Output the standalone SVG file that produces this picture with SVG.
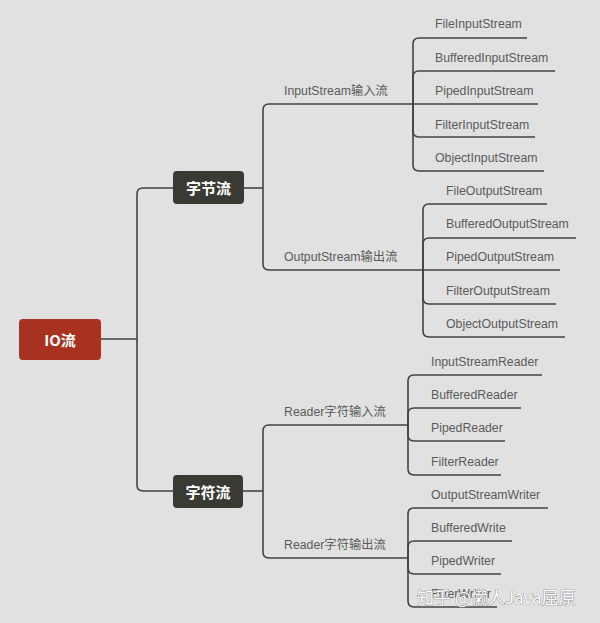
<svg xmlns="http://www.w3.org/2000/svg" width="600" height="623" viewBox="0 0 600 623">
<style>
.bg{fill:#e1e1e1}
.ln{fill:none;stroke:#434343;stroke-width:1.6}
.root{fill:#a7321f}
.mid{fill:#3a3a34}
.nt{fill:#ffffff;font-family:"Noto Sans CJK SC","Liberation Sans",sans-serif;font-size:15px;font-weight:bold;text-anchor:middle;dominant-baseline:central}
.lt{fill:#5a5a5a;font-family:"Liberation Sans","Noto Sans CJK SC",sans-serif;font-size:12.3px;dominant-baseline:central}
.wm{fill:#ffffff;stroke:#7a7a7a;stroke-width:0.7;paint-order:stroke;font-family:"Noto Sans CJK SC",sans-serif;font-size:17px;dominant-baseline:central}
</style>
<rect class="bg" x="0" y="0" width="600" height="623"/>
<g id="connectors">
<path class="ln" d="M101,339 H137"/>
<path class="ln" d="M173,188 H143 Q137,188 137,194 V485 Q137,491 143,491 H173"/>
<path class="ln" d="M244,188 H263"/>
<path class="ln" d="M243,491 H263"/>
<path class="ln" d="M413,104 H269 Q263,104 263,110 V264 Q263,270 269,270 H423"/>
<path class="ln" d="M408,425 H269 Q263,425 263,431 V552 Q263,558 269,558 H408"/>
<path class="ln" d="M413,104 V44 Q413,38 419,38 H527"/>
<path class="ln" d="M413,104 V77 Q413,71 419,71 H555"/>
<path class="ln" d="M413,104 H538"/>
<path class="ln" d="M413,104 V131 Q413,137 419,137 H535"/>
<path class="ln" d="M413,104 V165 Q413,171 419,171 H544"/>
<path class="ln" d="M423,270 V210 Q423,204 429,204 H547"/>
<path class="ln" d="M423,270 V244 Q423,238 429,238 H576"/>
<path class="ln" d="M423,270 H560"/>
<path class="ln" d="M423,270 V298 Q423,304 429,304 H556"/>
<path class="ln" d="M423,270 V331 Q423,337 429,337 H565"/>
<path class="ln" d="M408,425 V381 Q408,375 414,375 H542"/>
<path class="ln" d="M408,425 V414 Q408,408 414,408 H521"/>
<path class="ln" d="M408,425 V435 Q408,441 414,441 H505"/>
<path class="ln" d="M408,425 V469 Q408,475 414,475 H501"/>
<path class="ln" d="M408,558 V514 Q408,508 414,508 H548"/>
<path class="ln" d="M408,558 V547 Q408,541 414,541 H512"/>
<path class="ln" d="M408,558 V568 Q408,574 414,574 H501"/>
<path class="ln" d="M408,558 V601 Q408,607 414,607 H497"/>
</g>
<g id="n-io"><rect class="root" x="19" y="319" width="82" height="41" rx="4"/><text class="nt" x="60" y="339.5">IO流</text></g>
<g id="n-byte"><rect class="mid" x="173" y="171" width="71" height="33" rx="4"/><text class="nt" x="208.5" y="187.5">字节流</text></g>
<g id="n-char"><rect class="mid" x="173" y="475" width="70" height="33" rx="4"/><text class="nt" x="208" y="491.5">字符流</text></g>
<g id="n-inputstream"><text class="lt" x="284" y="91">InputStream输入流</text></g>
<g id="n-outputstream"><text class="lt" x="284" y="257">OutputStream输出流</text></g>
<g id="n-reader-in"><text class="lt" x="284" y="412">Reader字符输入流</text></g>
<g id="n-reader-out"><text class="lt" x="284" y="545">Reader字符输出流</text></g>
<g id="n-fis"><text class="lt" x="435" y="24">FileInputStream</text></g>
<g id="n-bis"><text class="lt" x="435" y="58">BufferedInputStream</text></g>
<g id="n-pis"><text class="lt" x="435" y="91">PipedInputStream</text></g>
<g id="n-filis"><text class="lt" x="435" y="125">FilterInputStream</text></g>
<g id="n-ois"><text class="lt" x="435" y="158">ObjectInputStream</text></g>
<g id="n-fos"><text class="lt" x="446" y="191">FileOutputStream</text></g>
<g id="n-bos"><text class="lt" x="446" y="224">BufferedOutputStream</text></g>
<g id="n-pos"><text class="lt" x="446" y="257">PipedOutputStream</text></g>
<g id="n-filos"><text class="lt" x="446" y="291">FilterOutputStream</text></g>
<g id="n-oos"><text class="lt" x="446" y="324">ObjectOutputStream</text></g>
<g id="n-isr"><text class="lt" x="431" y="362">InputStreamReader</text></g>
<g id="n-br"><text class="lt" x="431" y="395">BufferedReader</text></g>
<g id="n-pr"><text class="lt" x="431" y="428">PipedReader</text></g>
<g id="n-fr"><text class="lt" x="431" y="462">FilterReader</text></g>
<g id="n-osw"><text class="lt" x="431" y="495">OutputStreamWriter</text></g>
<g id="n-bw"><text class="lt" x="431" y="528">BufferedWrite</text></g>
<g id="n-pw"><text class="lt" x="431" y="561">PipedWriter</text></g>
<g id="n-fw"><text class="lt" x="431" y="594">FilterWriter</text></g>
<text class="wm" x="417" y="596">知乎 @懒人Java屈原</text>
</svg>
